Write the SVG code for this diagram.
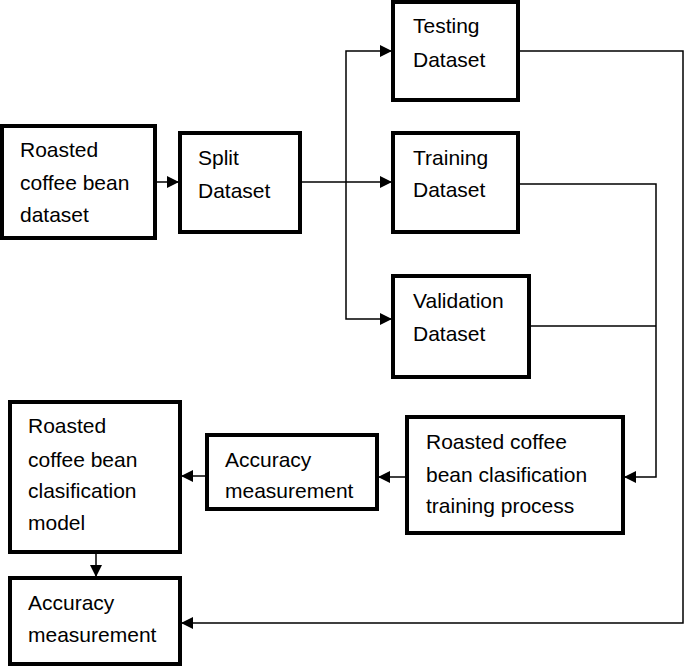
<svg xmlns="http://www.w3.org/2000/svg" width="685" height="666" viewBox="0 0 685 666">
<style>
.box{fill:#fff;stroke:#000;stroke-width:4}
.t{font-family:"Liberation Sans",Arial,sans-serif;font-size:21px;fill:#000}
.c{fill:none;stroke:#000;stroke-width:1.5}
</style>
<defs>
<marker id="ah" markerWidth="12" markerHeight="12" refX="12" refY="6" orient="auto" markerUnits="userSpaceOnUse">
<path d="M0,0 L12,6 L0,12 Z" fill="#000"/>
</marker>
</defs>
<rect width="685" height="666" fill="#fff"/>
<g id="connectors">
<path class="c" d="M155,182 H179" marker-end="url(#ah)"/>
<path class="c" d="M300,182 H392" marker-end="url(#ah)"/>
<path class="c" d="M346,182 V51 H392" marker-end="url(#ah)"/>
<path class="c" d="M346,182 V319 H392" marker-end="url(#ah)"/>
<path class="c" d="M518,51 H683 V623 H181" marker-end="url(#ah)"/>
<path class="c" d="M518,184 H656 V477 H624" marker-end="url(#ah)"/>
<path class="c" d="M529,326 H656"/>
<path class="c" d="M407,477 H378" marker-end="url(#ah)"/>
<path class="c" d="M207,476 H181" marker-end="url(#ah)"/>
<path class="c" d="M96,552 V577" marker-end="url(#ah)"/>
</g>
<g id="dataset">
<rect class="box" x="2" y="126" width="153" height="112"/>
<text class="t" x="20" y="157">Roasted</text>
<text class="t" x="20" y="190">coffee bean</text>
<text class="t" x="20" y="222">dataset</text>
</g>
<g id="split">
<rect class="box" x="180" y="133" width="120" height="99"/>
<text class="t" x="198" y="165">Split</text>
<text class="t" x="198" y="198">Dataset</text>
</g>
<g id="testing">
<rect class="box" x="393" y="2" width="125" height="98"/>
<text class="t" x="413" y="33">Testing</text>
<text class="t" x="413" y="67">Dataset</text>
</g>
<g id="training">
<rect class="box" x="393" y="133" width="125" height="99"/>
<text class="t" x="413" y="165">Training</text>
<text class="t" x="413" y="197">Dataset</text>
</g>
<g id="validation">
<rect class="box" x="393" y="276" width="136" height="101"/>
<text class="t" x="413" y="308">Validation</text>
<text class="t" x="413" y="341">Dataset</text>
</g>
<g id="training-process">
<rect class="box" x="407" y="417" width="216" height="116"/>
<text class="t" x="426" y="449">Roasted coffee</text>
<text class="t" x="426" y="482">bean clasification</text>
<text class="t" x="426" y="513">training process</text>
</g>
<g id="accuracy-mid">
<rect class="box" x="207" y="435" width="170" height="74"/>
<text class="t" x="225" y="467">Accuracy</text>
<text class="t" x="225" y="498">measurement</text>
</g>
<g id="model">
<rect class="box" x="10" y="402" width="170" height="150"/>
<text class="t" x="28" y="433">Roasted</text>
<text class="t" x="28" y="467">coffee bean</text>
<text class="t" x="28" y="498">clasification</text>
<text class="t" x="28" y="530">model</text>
</g>
<g id="accuracy-bottom">
<rect class="box" x="10" y="578" width="170" height="86"/>
<text class="t" x="28" y="610">Accuracy</text>
<text class="t" x="28" y="642">measurement</text>
</g>
</svg>
